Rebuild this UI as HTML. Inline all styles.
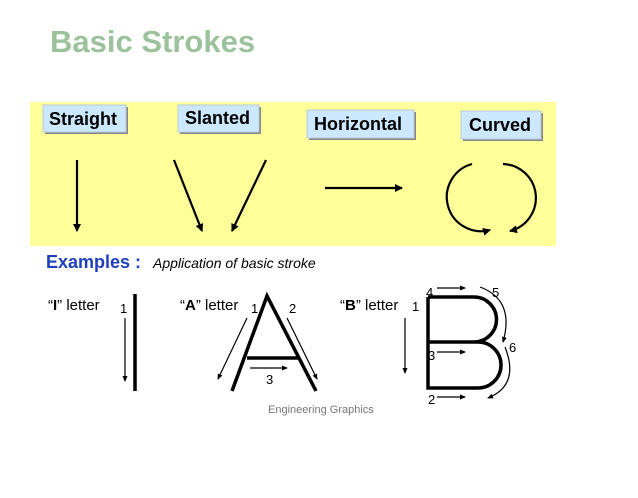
<!DOCTYPE html>
<html><head><style>
html,body{margin:0;padding:0;background:#fff;}
svg text{font-family:"Liberation Sans",Arial,sans-serif;}
</style></head><body>
<svg width="638" height="493" viewBox="0 0 638 493" xmlns="http://www.w3.org/2000/svg">
<defs>
<marker id="a" markerWidth="8" markerHeight="8" refX="7" refY="4" orient="auto" markerUnits="userSpaceOnUse"><path d="M0,0 L8,4 L0,8 z" fill="#000"/></marker>
<marker id="s" markerWidth="6" markerHeight="6" refX="5" refY="3" orient="auto" markerUnits="userSpaceOnUse"><path d="M0,0.5 L6,3 L0,5.5 z" fill="#000"/></marker>
</defs>
<text x="50" y="52" font-size="31" font-weight="bold" fill="#9cc29c">Basic Strokes</text>
<rect x="30" y="102" width="526" height="144" fill="#ffff99"/>
<g font-size="18" font-weight="bold" fill="#000">
<rect x="45" y="107" width="83" height="27" fill="#888"/><rect x="43" y="105" width="83" height="27" fill="#cce8ff" stroke="#b8c8d8"/><text x="49" y="125">Straight</text>
<rect x="180" y="107" width="81" height="27" fill="#888"/><rect x="178" y="105" width="81" height="27" fill="#cce8ff" stroke="#b8c8d8"/><text x="185" y="124">Slanted</text>
<rect x="309" y="112" width="107" height="28" fill="#888"/><rect x="307" y="110" width="107" height="28" fill="#cce8ff" stroke="#b8c8d8"/><text x="314" y="130">Horizontal</text>
<rect x="463" y="113" width="80" height="28" fill="#888"/><rect x="461" y="111" width="80" height="28" fill="#cce8ff" stroke="#b8c8d8"/><text x="469" y="131">Curved</text>
</g>
<g stroke="#000" stroke-width="2.2" fill="none">
<line x1="77" y1="160" x2="77" y2="231" marker-end="url(#a)"/>
<line x1="174" y1="160" x2="202" y2="231" marker-end="url(#a)"/>
<line x1="266" y1="160" x2="232" y2="231" marker-end="url(#a)"/>
<line x1="325" y1="188" x2="402" y2="188" marker-end="url(#a)"/>
<path d="M472,164 A34,34 0 0 0 490,230" marker-end="url(#a)"/>
<path d="M503,164 A34,34 0 0 1 510,231" marker-end="url(#a)"/>
</g>
<text x="46" y="268" font-size="18" font-weight="bold" fill="#1f3fbf">Examples :</text>
<text x="153" y="268" font-size="14" font-style="italic" fill="#000">Application of basic stroke</text>
<g font-size="15" fill="#000">
<text x="48" y="310">“<tspan font-weight="bold">I</tspan>” letter</text>
<text x="180" y="310">“<tspan font-weight="bold">A</tspan>” letter</text>
<text x="340" y="310">“<tspan font-weight="bold">B</tspan>” letter</text>
<text x="120" y="313" font-size="13">1</text>
<text x="251" y="313" font-size="13">1</text>
<text x="289" y="313" font-size="13">2</text>
<text x="266" y="384" font-size="13">3</text>
<text x="412" y="311" font-size="13">1</text>
<text x="426" y="297" font-size="13">4</text>
<text x="492" y="297" font-size="13">5</text>
<text x="428" y="360" font-size="13">3</text>
<text x="509" y="352" font-size="13">6</text>
<text x="428" y="404" font-size="13">2</text>
</g>
<g stroke="#000" fill="none">
<line x1="135" y1="294" x2="135" y2="391" stroke-width="3.5"/>
<path d="M232,391 L267,296 L316,391 M247,358 L298,358" stroke-width="3.5"/>
<path d="M428,297 L474,297 A22.5,22.5 0 0 1 474,342 L428,342 M474,342 L478,342 A23,23 0 0 1 478,388 L428,388 L428,297" stroke-width="3.5"/>
<g stroke-width="1.2">
<line x1="125" y1="318" x2="125" y2="381" marker-end="url(#s)"/>
<line x1="247" y1="318" x2="218" y2="379" marker-end="url(#s)"/>
<line x1="287" y1="318" x2="317" y2="379" marker-end="url(#s)"/>
<line x1="250" y1="368" x2="287" y2="368" marker-end="url(#s)"/>
<line x1="405" y1="318" x2="405" y2="373" marker-end="url(#s)"/>
<line x1="437" y1="288" x2="465" y2="288" marker-end="url(#s)"/>
<line x1="437" y1="352" x2="465" y2="352" marker-end="url(#s)"/>
<line x1="437" y1="397" x2="465" y2="397" marker-end="url(#s)"/>
<path d="M480,287 Q515,300 503,342" marker-end="url(#s)"/>
<path d="M505,347 Q520,385 488,398" marker-end="url(#s)"/>
</g>
</g>
<text x="268" y="413" font-size="11" fill="#777">Engineering Graphics</text>
</svg>
</body></html>
